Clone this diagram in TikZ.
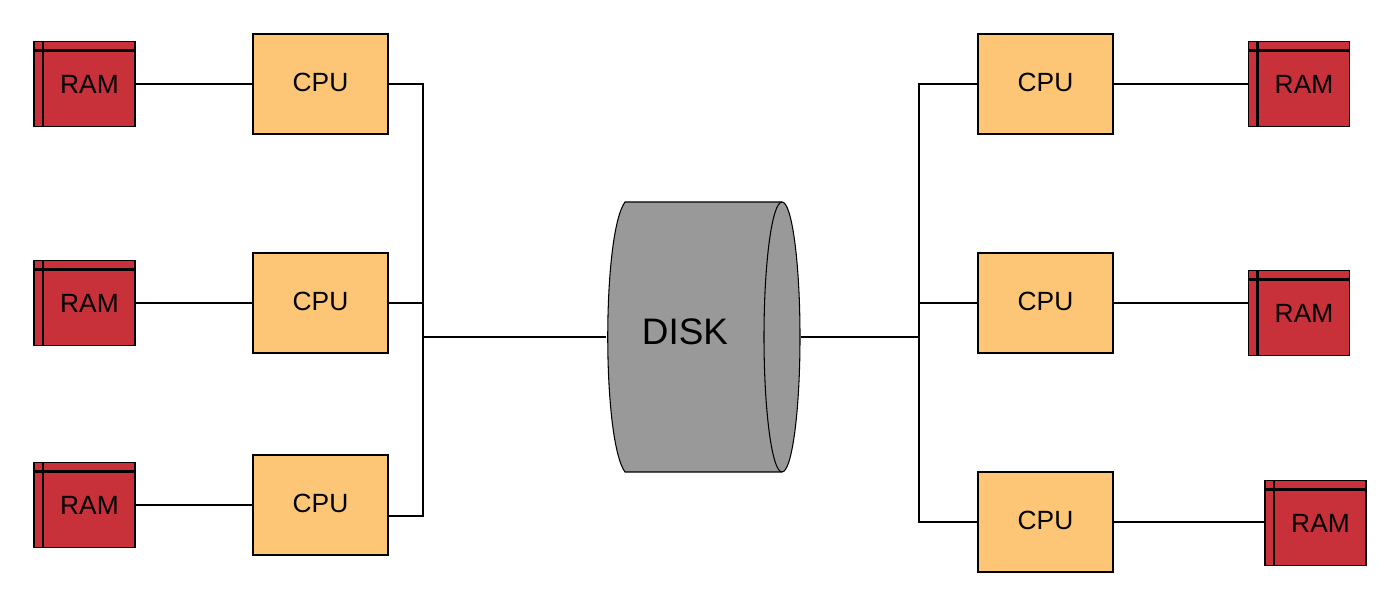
\documentclass[tikz,border=0pt]{standalone}
\usepackage{fontspec}
\setmainfont{Liberation Sans}
\definecolor{ramred}{HTML}{C8303A}
\definecolor{cpuorange}{HTML}{FDC677}
\definecolor{diskgray}{HTML}{999999}
\tikzset{
  cpu/.style={draw, fill=cpuorange, minimum width=2.7cm, minimum height=2cm, font=\fontsize{15}{18}\selectfont, inner sep=0},
  ram/.style={draw, fill=ramred, minimum width=2.02cm, minimum height=1.7cm, font=\fontsize{15}{18}\selectfont, inner sep=0,
    path picture={\draw[line width=1.2pt] ([xshift=0.18cm]path picture bounding box.north west) -- ([xshift=0.18cm]path picture bounding box.south west);
                  \draw[line width=1.2pt] ([yshift=-0.18cm]path picture bounding box.north west) -- ([yshift=-0.18cm]path picture bounding box.north east);}},
}
\begin{document}
\begin{tikzpicture}[x=0.02cm, y=-0.02cm, line width=0.6pt]
  \useasboundingbox (0,0) rectangle (1400,607);
  % disk
  \draw[fill=diskgray] (625,202) -- (782,202) arc[start angle=-90, end angle=90, x radius=18, y radius=135]
    -- (625,472) .. controls (602,440) and (602,234) .. (625,202) -- cycle;
  \draw (782,202) arc[start angle=-90, end angle=-270, x radius=18, y radius=135];
  \node[minimum width=3.86cm, minimum height=5.4cm, inner sep=0] (disk) at (703.5,337) {};
  \node[font=\fontsize{21}{24}\selectfont] (disklabel) at (685,332) {DISK};
  % left side
  \foreach \y [count=\i] in {84, 303, 505}{%
    \node[ram] (ramL\i) at (84.5,\y) {\hspace{0.2cm}\raisebox{-0.1cm}{RAM}};
    \node[cpu] (cpuL\i) at (320.5,\y) {\raisebox{0.08cm}{CPU}};
    \draw (ramL\i) -- (cpuL\i);
  }
  \coordinate (busL) at (423,337);
  \draw (cpuL1.east |- 0,84) -| (busL);
  \draw (cpuL2.east) -- (cpuL2.east -| busL);
  \draw (cpuL3.east |- 0,516) -| (busL);
  \draw (busL) -- (disk.west);
  % right side
  \foreach \y/\ry/\rx [count=\i] in {84/84/1299, 303/313/1299, 522/523/1315.5}{%
    \node[cpu] (cpuR\i) at (1045.5,\y) {\raisebox{0.08cm}{CPU}};
    \node[ram] (ramR\i) at (\rx,\ry) {\hspace{0.2cm}\raisebox{-0.1cm}{RAM}};
    \draw (cpuR\i.east) -- (cpuR\i.east -| ramR\i.west);
  }
  \coordinate (busR) at (919,337);
  \draw (cpuR1.west) -| (busR);
  \draw (cpuR2.west) -- (cpuR2.west -| busR);
  \draw (cpuR3.west) -| (busR);
  \draw (disk.east) -- (busR);
\end{tikzpicture}
\end{document}
